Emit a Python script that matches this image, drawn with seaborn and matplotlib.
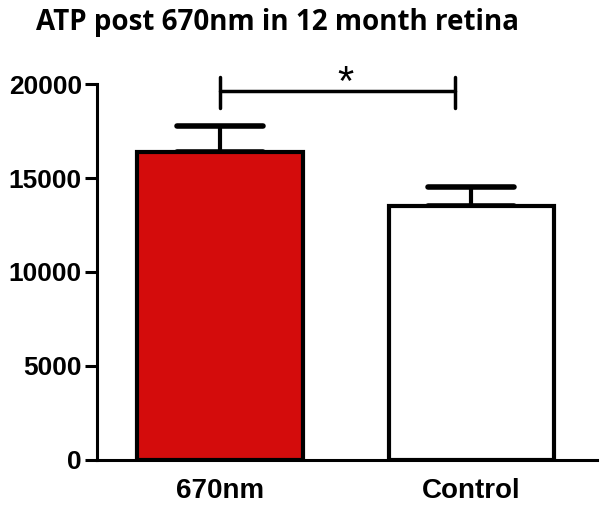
import matplotlib
matplotlib.use('Agg')
import matplotlib.pyplot as plt
from matplotlib.markers import MarkerStyle
import seaborn as sns
import pandas as pd

groups = ['670nm', 'Control']
means = [16380, 13510]
sem = [1390, 1010]
colors = ['#D40C0C', '#FFFFFF']

data = pd.DataFrame({'group': groups, 'atp': means})

sns.set_style('ticks')
plt.rcParams['font.family'] = ['Liberation Sans', 'DejaVu Sans']
plt.rcParams['text.color'] = 'black'
plt.rcParams['xtick.color'] = 'black'
plt.rcParams['ytick.color'] = 'black'
plt.rcParams['axes.edgecolor'] = 'black'

fig = plt.figure(figsize=(6, 5.16), dpi=100)
ax = fig.add_axes([0.162, 0.109, 0.833, 0.728])

sns.barplot(data=data, x='group', y='atp', hue='group', palette=colors,
            saturation=1, width=0.66, errorbar=None, legend=False, ax=ax,
            edgecolor='black', linewidth=3, zorder=2)

# SEM, upper side only
eb = ax.errorbar(range(len(groups)), means, yerr=[[0] * len(sem), sem],
                 fmt='none', ecolor='black', elinewidth=3, capsize=31,
                 capthick=4, zorder=1)
for cl in eb[1]:
    cl.set_marker(MarkerStyle('_', capstyle='round'))

ax.set_ylim(0, 20000)
ax.set_xlim(-0.49, 1.5)
ax.set_yticks([0, 5000, 10000, 15000, 20000])
ax.set_xlabel('')
ax.set_ylabel('')
ax.tick_params(axis='y', length=9, width=2.2, labelsize=19, pad=2,
               labelcolor='black')
ax.tick_params(axis='x', length=0, labelsize=20, pad=13, labelcolor='black')
for lab in ax.get_xticklabels() + ax.get_yticklabels():
    lab.set_fontweight('bold')
for side in ['left', 'bottom']:
    ax.spines[side].set_linewidth(2.2)
sns.despine(ax=ax)

# significance bracket
ax.plot([0, 0.935], [19630, 19630], color='black', lw=2.5, clip_on=False)
ax.plot([0, 0], [18720, 20370], color='black', lw=2.5, clip_on=False)
ax.plot([0.935, 0.935], [18720, 20370], color='black', lw=2.5, clip_on=False)
ax.text(0.5, 18950, '*', ha='center', va='bottom', fontsize=30,
        color='black', clip_on=False)

fig.text(0.463, 0.957, 'ATP post 670nm in 12 month retina', ha='center',
         va='center', fontsize=20, fontweight='bold', family='Open Sans',
         color='black')

plt.savefig('out.png', dpi=100)
